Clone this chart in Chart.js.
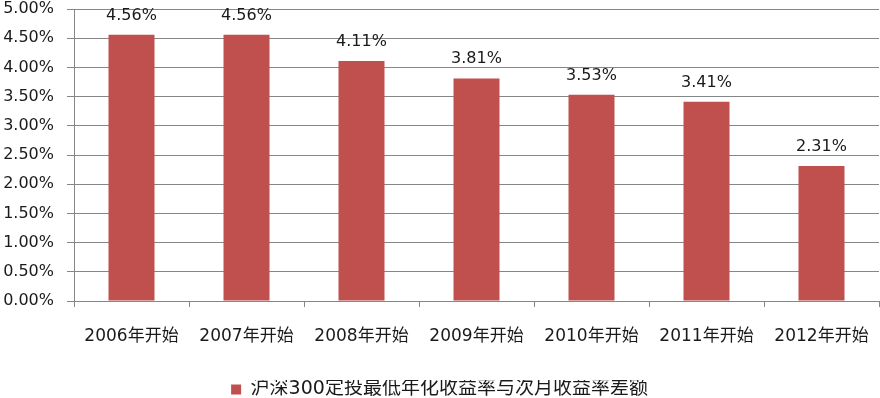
<!DOCTYPE html>
<html>
<head>
<meta charset="utf-8">
<script src="https://cdn.jsdelivr.net/npm/chart.js@4/dist/chart.umd.min.js"></script>
<style>
  html, body { margin: 0; padding: 0; background: #fff; }
  #wrap { width: 880px; height: 398px; }
</style>
</head>
<body>
<div id="wrap"><canvas id="diffChart" width="880" height="398"></canvas></div>
<script>
// chart data
const categories = ['2006年开始', '2007年开始', '2008年开始', '2009年开始', '2010年开始', '2011年开始', '2012年开始'];
const diffValues = [4.56, 4.56, 4.11, 3.81, 3.53, 3.41, 2.31]; // percent
const seriesName = '沪深300定投最低年化收益率与次月收益率差额';
const yMax = 5;
const yStep = 0.5;

const fontStack = "'DejaVu Sans', 'Noto Sans CJK SC', sans-serif";
const textColor = '#1a1a1a';
const lineColor = '#868686';

// value labels above the bars
const valueLabels = {
  id: 'valueLabels',
  afterDatasetsDraw(chart) {
    const c = chart.ctx;
    const meta = chart.getDatasetMeta(0);
    c.save();
    c.font = '16px ' + fontStack;
    c.fillStyle = textColor;
    c.textAlign = 'center';
    c.textBaseline = 'alphabetic';
    meta.data.forEach(function(bar, i) {
      c.fillText(diffValues[i].toFixed(2) + '%', bar.x, bar.y - 15);
    });
    c.restore();
  }
};

const ctx = document.getElementById('diffChart').getContext('2d');
const diffChart = new Chart(ctx, {
  type: 'bar',
  data: {
    labels: categories,
    datasets: [{
      label: seriesName,
      data: diffValues,
      backgroundColor: '#C0504D',
      borderWidth: 0,
      categoryPercentage: 1,
      barPercentage: 0.4
    }]
  },
  options: {
    responsive: false,
    animation: false,
    layout: { padding: { top: 9, right: 1, left: 0, bottom: -11 } },
    plugins: {
      tooltip: { enabled: false },
      legend: {
        position: 'bottom',
        labels: {
          font: { family: fontStack, size: 19 },
          color: textColor,
          boxWidth: 10,
          boxHeight: 10,
          padding: 0
        }
      }
    },
    scales: {
      x: {
        grid: {
          drawOnChartArea: false,
          drawTicks: true,
          tickLength: 6,
          color: lineColor
        },
        border: { color: lineColor },
        ticks: {
          font: { family: fontStack, size: 17 },
          color: textColor,
          padding: 19,
          maxRotation: 0,
          autoSkip: false
        },
        afterFit(scale) {
          scale.height = 79;
          scale.paddingLeft = 0;
          scale.paddingRight = 0;
        }
      },
      y: {
        min: 0,
        max: yMax,
        grid: {
          color: lineColor,
          tickLength: 7
        },
        border: { color: lineColor },
        ticks: {
          stepSize: yStep,
          font: { family: fontStack, size: 16 },
          color: textColor,
          padding: 13,
          callback: function(v) { return v.toFixed(2) + '%'; }
        },
        afterFit(scale) {
          scale.width = 74;
          scale.paddingTop = 0;
          scale.paddingBottom = 0;
        }
      }
    }
  },
  plugins: [valueLabels]
});
</script>
</body>
</html>
